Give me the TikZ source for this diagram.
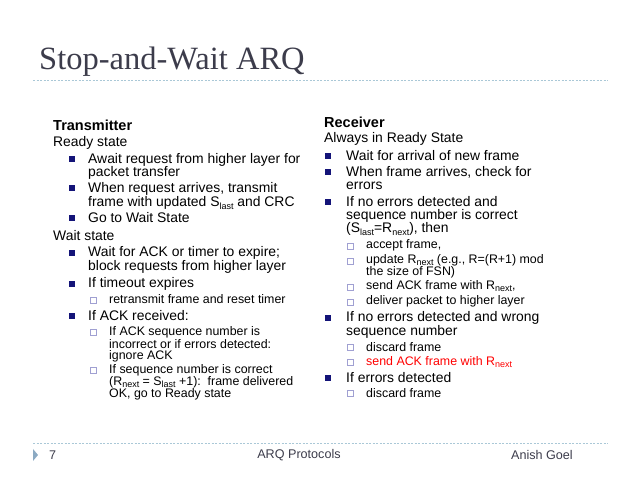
\documentclass[tikz,border=0pt]{standalone}
\usepackage{fontspec}
\setmainfont{Liberation Sans}
\newfontfamily\titlefont{Liberation Serif}
\definecolor{navy}{RGB}{20,20,120}
\definecolor{lav}{RGB}{160,160,210}
\definecolor{rule}{RGB}{170,200,215}
\definecolor{ttl}{RGB}{60,60,75}
\definecolor{tri}{RGB}{140,170,195}
\newcommand{\lsub}[1]{\raisebox{-.4ex}{\fontsize{9}{9}\selectfont #1}}
\tikzset{
 txt/.style={anchor=west,inner sep=0pt,font=\fontsize{13.9}{14}\selectfont},
 hd/.style={txt,font=\fontsize{14.5}{14}\selectfont\bfseries},
 st/.style={anchor=west,inner sep=0pt,font=\fontsize{12.4}{13}\selectfont},
 bul/.style={fill=navy,minimum size=5.5pt,inner sep=0pt},
 sbul/.style={draw=lav,line width=0.6pt,minimum size=6pt,inner sep=0pt},
 rl/.style={rule,dashed,dash pattern=on 2pt off 1.5pt,line width=0.7pt},
 ft/.style={font=\fontsize{12.6}{13}\selectfont,text=ttl,inner sep=0pt}
}
\begin{document}
\begin{tikzpicture}[x=1pt,y=-1pt]
\useasboundingbox (0,0) rectangle (638,478);
\node[anchor=west,inner sep=0pt,font=\titlefont\fontsize{32.5}{33}\selectfont,text=ttl] (title) at (39,62) {Stop-and-Wait ARQ};
\coordinate (r1a) at (33,80); \coordinate (r1b) at (608,80);
\draw[rl] (r1a) -- (r1b);
% transmitter
\node[hd] (t0) at (53,125) {Transmitter};
\node[txt] (t1) at (53,143) {Ready state};
\node[bul] (b1) at (72,159) {}; \node[txt] (t2) at (88,160) {Await request from higher layer for};
\node[txt] (t3) at (88,173) {packet transfer};
\node[bul] (b2) at (72,188) {}; \node[txt] (t4) at (88,189) {When request arrives, transmit};
\node[txt] (t5) at (88,203) {frame with updated S\lsub{last} and CRC};
\node[bul] (b3) at (72,218) {}; \node[txt] (t6) at (88,218) {Go to Wait State};
\node[txt] (t7) at (53,236) {Wait state};
\node[bul] (b4) at (72,253) {}; \node[txt] (t8) at (88,253) {Wait for ACK or timer to expire;};
\node[txt] (t9) at (88,267) {block requests from higher layer};
\node[bul] (b5) at (72,284) {}; \node[txt] (t10) at (88,284) {If timeout expires};
\node[sbul] (s1) at (93,300) {}; \node[st] (t11) at (109,299) {retransmit frame and reset timer};
\node[bul] (b6) at (72,316) {}; \node[txt] (t12) at (88,316) {If ACK received:};
\node[sbul] (s2) at (93,332) {}; \node[st] (t13) at (109,332) {If ACK sequence number is};
\node[st] (t14) at (109,344) {incorrect or if errors detected:};
\node[st] (t15) at (109,356) {ignore ACK};
\node[sbul] (s3) at (93,370) {}; \node[st] (t16) at (109,370) {If sequence number is correct};
\node[st] (t17) at (109,382) {(R\lsub{next} = S\lsub{last} +1):\ \ frame delivered};
\node[st] (t18) at (109,394) {OK, go to Ready state};
% receiver
\node[hd] (r0) at (324,122) {Receiver};
\node[txt] (r1) at (324,139) {Always in Ready State};
\node[bul] (c1) at (328,156) {}; \node[txt] (r2) at (346,156) {Wait for arrival of new frame};
\node[bul] (c2) at (328,172) {}; \node[txt] (r3) at (346,172) {When frame arrives, check for};
\node[txt] (r4) at (346,186) {errors};
\node[bul] (c3) at (328,202) {}; \node[txt] (r5) at (346,202) {If no errors detected and};
\node[txt] (r6) at (346,216) {sequence number is correct};
\node[txt] (r7) at (346,229) {(S\lsub{last}=R\lsub{next}), then};
\node[sbul] (d1) at (350,246) {}; \node[st] (r8) at (366,245) {accept frame,};
\node[sbul] (d2) at (350,261) {}; \node[st] (r9) at (366,260) {update R\lsub{next} (e.g., R=(R+1) mod};
\node[st] (r10) at (366,272) {the size of FSN)};
\node[sbul] (d3) at (350,287) {}; \node[st] (r11) at (366,286) {send ACK frame with R\lsub{next},};
\node[sbul] (d4) at (350,302) {}; \node[st] (r12) at (366,301) {deliver packet to higher layer};
\node[bul] (c4) at (328,318) {}; \node[txt] (r13) at (346,318) {If no errors detected and wrong};
\node[txt] (r14) at (346,332) {sequence number};
\node[sbul] (d5) at (350,347) {}; \node[st] (r15) at (366,347) {discard frame};
\node[sbul] (d6) at (350,362) {}; \node[st,text=red] (r16) at (366,362) {send ACK frame with R\lsub{next}};
\node[bul] (c5) at (328,378) {}; \node[txt] (r17) at (346,378) {If errors detected};
\node[sbul] (d7) at (350,393) {}; \node[st] (r18) at (366,393) {discard frame};
% footer
\coordinate (r2a) at (33,443); \coordinate (r2b) at (608,443);
\draw[rl] (r2a) -- (r2b);
\fill[tri] (33,449) -- (38,455) -- (33,461) -- cycle;
\node[ft,anchor=west] (f1) at (49,455) {7};
\node[ft] (f2) at (299,455) {ARQ Protocols};
\node[ft,anchor=east] (f3) at (573,455) {Anish Goel};
\end{tikzpicture}
\end{document}
